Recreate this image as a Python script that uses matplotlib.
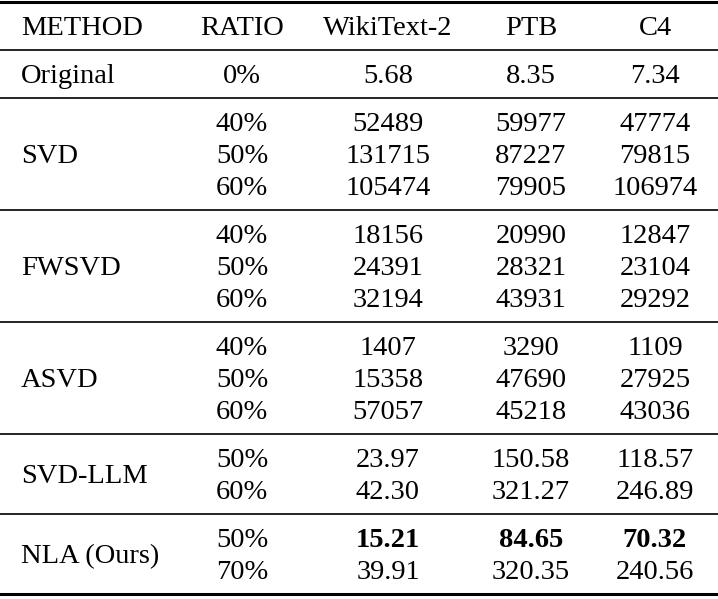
import matplotlib.pyplot as plt

# table contents
methods = ['Original', 'SVD', 'FWSVD', 'ASVD', 'SVD-LLM', 'NLA (Ours)']
ratios = [['0%'], ['40%', '50%', '60%'], ['40%', '50%', '60%'],
          ['40%', '50%', '60%'], ['50%', '60%'], ['50%', '70%']]
wikitext2 = [['5.68'], ['52489', '131715', '105474'], ['18156', '24391', '32194'],
             ['1407', '15358', '57057'], ['23.97', '42.30'], ['15.21', '39.91']]
ptb = [['8.35'], ['59977', '87227', '79905'], ['20990', '28321', '43931'],
       ['3290', '47690', '45218'], ['150.58', '321.27'], ['84.65', '320.35']]
c4 = [['7.34'], ['47774', '79815', '106974'], ['12847', '23104', '29292'],
      ['1109', '27925', '43036'], ['118.57', '246.89'], ['70.32', '240.56']]
headers = ['METHOD', 'RATIO', 'WikiText-2', 'PTB', 'C4']
bold_cells = {(5, 0)}  # (group, row) drawn in bold in the value columns

plt.rcParams['font.family'] = ['Liberation Serif', 'DejaVu Serif']
fs = 20.5

fig = plt.figure(figsize=(7.18, 5.99), dpi=100)
ax = fig.add_axes([0, 0, 1, 1])
ax.set_xlim(0, 718)
ax.set_ylim(599, 0)
ax.axis('off')

col_x = [21, 242, 388, 531, 655]
row_h = 32
pad = 16
dy = 2.5  # text sits a little below the cell middle

# header
y = 2
ax.axhline(y, color='black', lw=2.2)
y_text = y + pad / 2 + row_h / 2 + dy
for i, h in enumerate(headers):
    ax.text(col_x[i], y_text, h, fontsize=fs, ha='left' if i == 0 else 'center',
            va='center')
y += row_h + pad
ax.axhline(y, color='black', lw=1.2)

for g, m in enumerate(methods):
    n = len(ratios[g])
    top = y + pad / 2 + dy
    ax.text(col_x[0], top + n * row_h / 2, m, fontsize=fs, ha='left', va='center')
    for r in range(n):
        yc = top + (r + 0.5) * row_h
        ax.text(col_x[1], yc, ratios[g][r], fontsize=fs, ha='center', va='center')
        w = 'bold' if (g, r) in bold_cells else 'normal'
        for k, col in enumerate([wikitext2, ptb, c4]):
            ax.text(col_x[2 + k], yc, col[g][r], fontsize=fs, ha='center',
                    va='center', fontweight=w)
    y += n * row_h + pad
    ax.axhline(y, color='black', lw=2.2 if g == len(methods) - 1 else 1.2)

fig.savefig('out.png', dpi=100)
